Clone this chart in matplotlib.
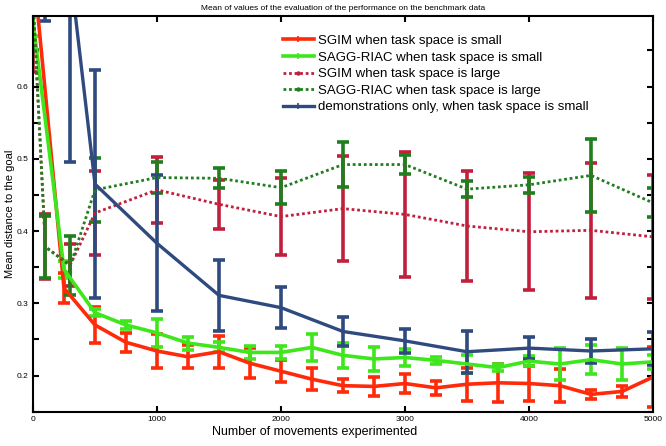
import matplotlib
matplotlib.use("Agg")
import matplotlib.pyplot as plt
import numpy as np
from matplotlib.ticker import MultipleLocator
from matplotlib.lines import Line2D

plt.rcParams['font.family'] = ['Liberation Sans', 'DejaVu Sans']

title = "Mean of values of the evaluation of the performance on the benchmark data"
xlabel = "Number of movements experimented"
ylabel = "Mean distance to the goal"
labels = ["SGIM when task space is small",
          "SAGG-RIAC when task space is small",
          "SGIM when task space is large",
          "SAGG-RIAC when task space is large",
          "demonstrations only, when task space is small"]

# small task space runs
x_small = [0, 250, 500, 750, 1000, 1250, 1500, 1750, 2000, 2250, 2500,
           2750, 3000, 3250, 3500, 3750, 4000, 4250, 4500, 4750, 5000]
sgim_small = [0.77, 0.321, 0.270, 0.246, 0.234, 0.226, 0.233, 0.217, 0.206, 0.195, 0.186,
              0.185, 0.189, 0.183, 0.188, 0.190, 0.189, 0.186, 0.174, 0.178, 0.198]
sgim_small_err = [0.05, 0.021, 0.025, 0.013, 0.023, 0.016, 0.022, 0.021, 0.015, 0.015, 0.009,
                  0.013, 0.013, 0.010, 0.023, 0.026, 0.024, 0.023, 0.006, 0.008, 0.042]
sagg_small = [0.69, 0.347, 0.287, 0.270, 0.259, 0.245, 0.239, 0.232, 0.232, 0.239, 0.228,
              0.223, 0.225, 0.221, 0.216, 0.211, 0.220, 0.216, 0.222, 0.216, 0.219]
sagg_small_err = [0.02, 0.012, 0.005, 0.005, 0.019, 0.009, 0.007, 0.009, 0.009, 0.019, 0.017,
                  0.017, 0.012, 0.005, 0.013, 0.005, 0.007, 0.022, 0.020, 0.022, 0.010]

# large task space runs
x_large = [0, 100, 300, 500, 1000, 1500, 2000, 2500, 3000, 3500, 4000, 4500, 5000]
sgim_large = [0.72, 0.378, 0.353, 0.425, 0.457, 0.437, 0.420, 0.431, 0.423, 0.407, 0.399, 0.401, 0.392]
sgim_large_err = [0.10, 0.045, 0.029, 0.058, 0.046, 0.034, 0.053, 0.073, 0.086, 0.076, 0.081, 0.093, 0.086]
sagg_large = [0.72, 0.378, 0.352, 0.457, 0.474, 0.473, 0.460, 0.492, 0.492, 0.458, 0.464, 0.477, 0.439]
sagg_large_err = [0.07, 0.043, 0.041, 0.044, 0.021, 0.014, 0.023, 0.031, 0.013, 0.011, 0.011, 0.050, 0.020]

# demonstrations only
x_demo = [0, 100, 300, 500, 1000, 1500, 2000, 2500, 3000, 3500, 4000, 4500, 5000]
demo = [0.95, 0.86, 0.76, 0.465, 0.383, 0.311, 0.294, 0.261, 0.248, 0.233, 0.238, 0.234, 0.237]
demo_err = [0.05, 0.17, 0.265, 0.158, 0.094, 0.049, 0.028, 0.020, 0.017, 0.029, 0.015, 0.016, 0.023]

fig = plt.figure(figsize=(6.66, 4.46), dpi=100)
ax = fig.add_axes([33/666, 1-411.7/446, 620/666, (411.7-15.7)/446])

c_red = '#ff2a0a'
c_lgreen = '#3ee61c'
c_dred = '#c0203c'
c_dgreen = '#1f7f1f'
c_blue = '#2f4a7f'

dotted = (0, (1, 1.0))
series = [
    (x_small, sgim_small, sgim_small_err, c_red, '-', 2.6),
    (x_small, sagg_small, sagg_small_err, c_lgreen, '-', 2.6),
    (x_large, sgim_large, sgim_large_err, c_dred, dotted, 2.0),
    (x_large, sagg_large, sagg_large_err, c_dgreen, dotted, 2.0),
    (x_demo, demo, demo_err, c_blue, '-', 2.4),
]
handles = []
for (x, y, e, c, ls, lw), lab in zip(series, labels):
    ax.errorbar(x, y, yerr=e, color=c, linestyle=ls, linewidth=lw,
                elinewidth=2.6, capsize=4.5, capthick=2.6)
    handles.append(Line2D([], [], color=c, linestyle=ls, linewidth=lw,
                          marker='|' if ls == '-' else '.', markersize=4,
                          markeredgewidth=1.2, label=lab))

ax.set_xlim(0, 5000)
ax.set_ylim(0.15, 0.698)
ax.xaxis.set_major_locator(MultipleLocator(1000))
ax.yaxis.set_major_locator(MultipleLocator(0.1))
ax.yaxis.set_minor_locator(MultipleLocator(0.05))
ax.tick_params(which='both', direction='in', top=True, right=True, length=4,
               width=1.5, labelsize=6)
ax.tick_params(axis='x', pad=3)
for s in ax.spines.values():
    s.set_linewidth(1.5)

ax.set_title(title, fontsize=6, pad=4)
ax.set_xlabel(xlabel, fontsize=9)
ax.xaxis.set_label_coords(0.455, -0.036)
ax.set_ylabel(ylabel, fontsize=8)
ax.yaxis.set_label_coords(-0.029, 0.5)

leg = ax.legend(handles=handles, loc='upper left', bbox_to_anchor=(0.394, 0.965),
                frameon=False, fontsize=9.5, handlelength=2.4, handletextpad=0.3,
                labelspacing=0.33, borderaxespad=0)

fig.savefig('out.png', dpi=100)
